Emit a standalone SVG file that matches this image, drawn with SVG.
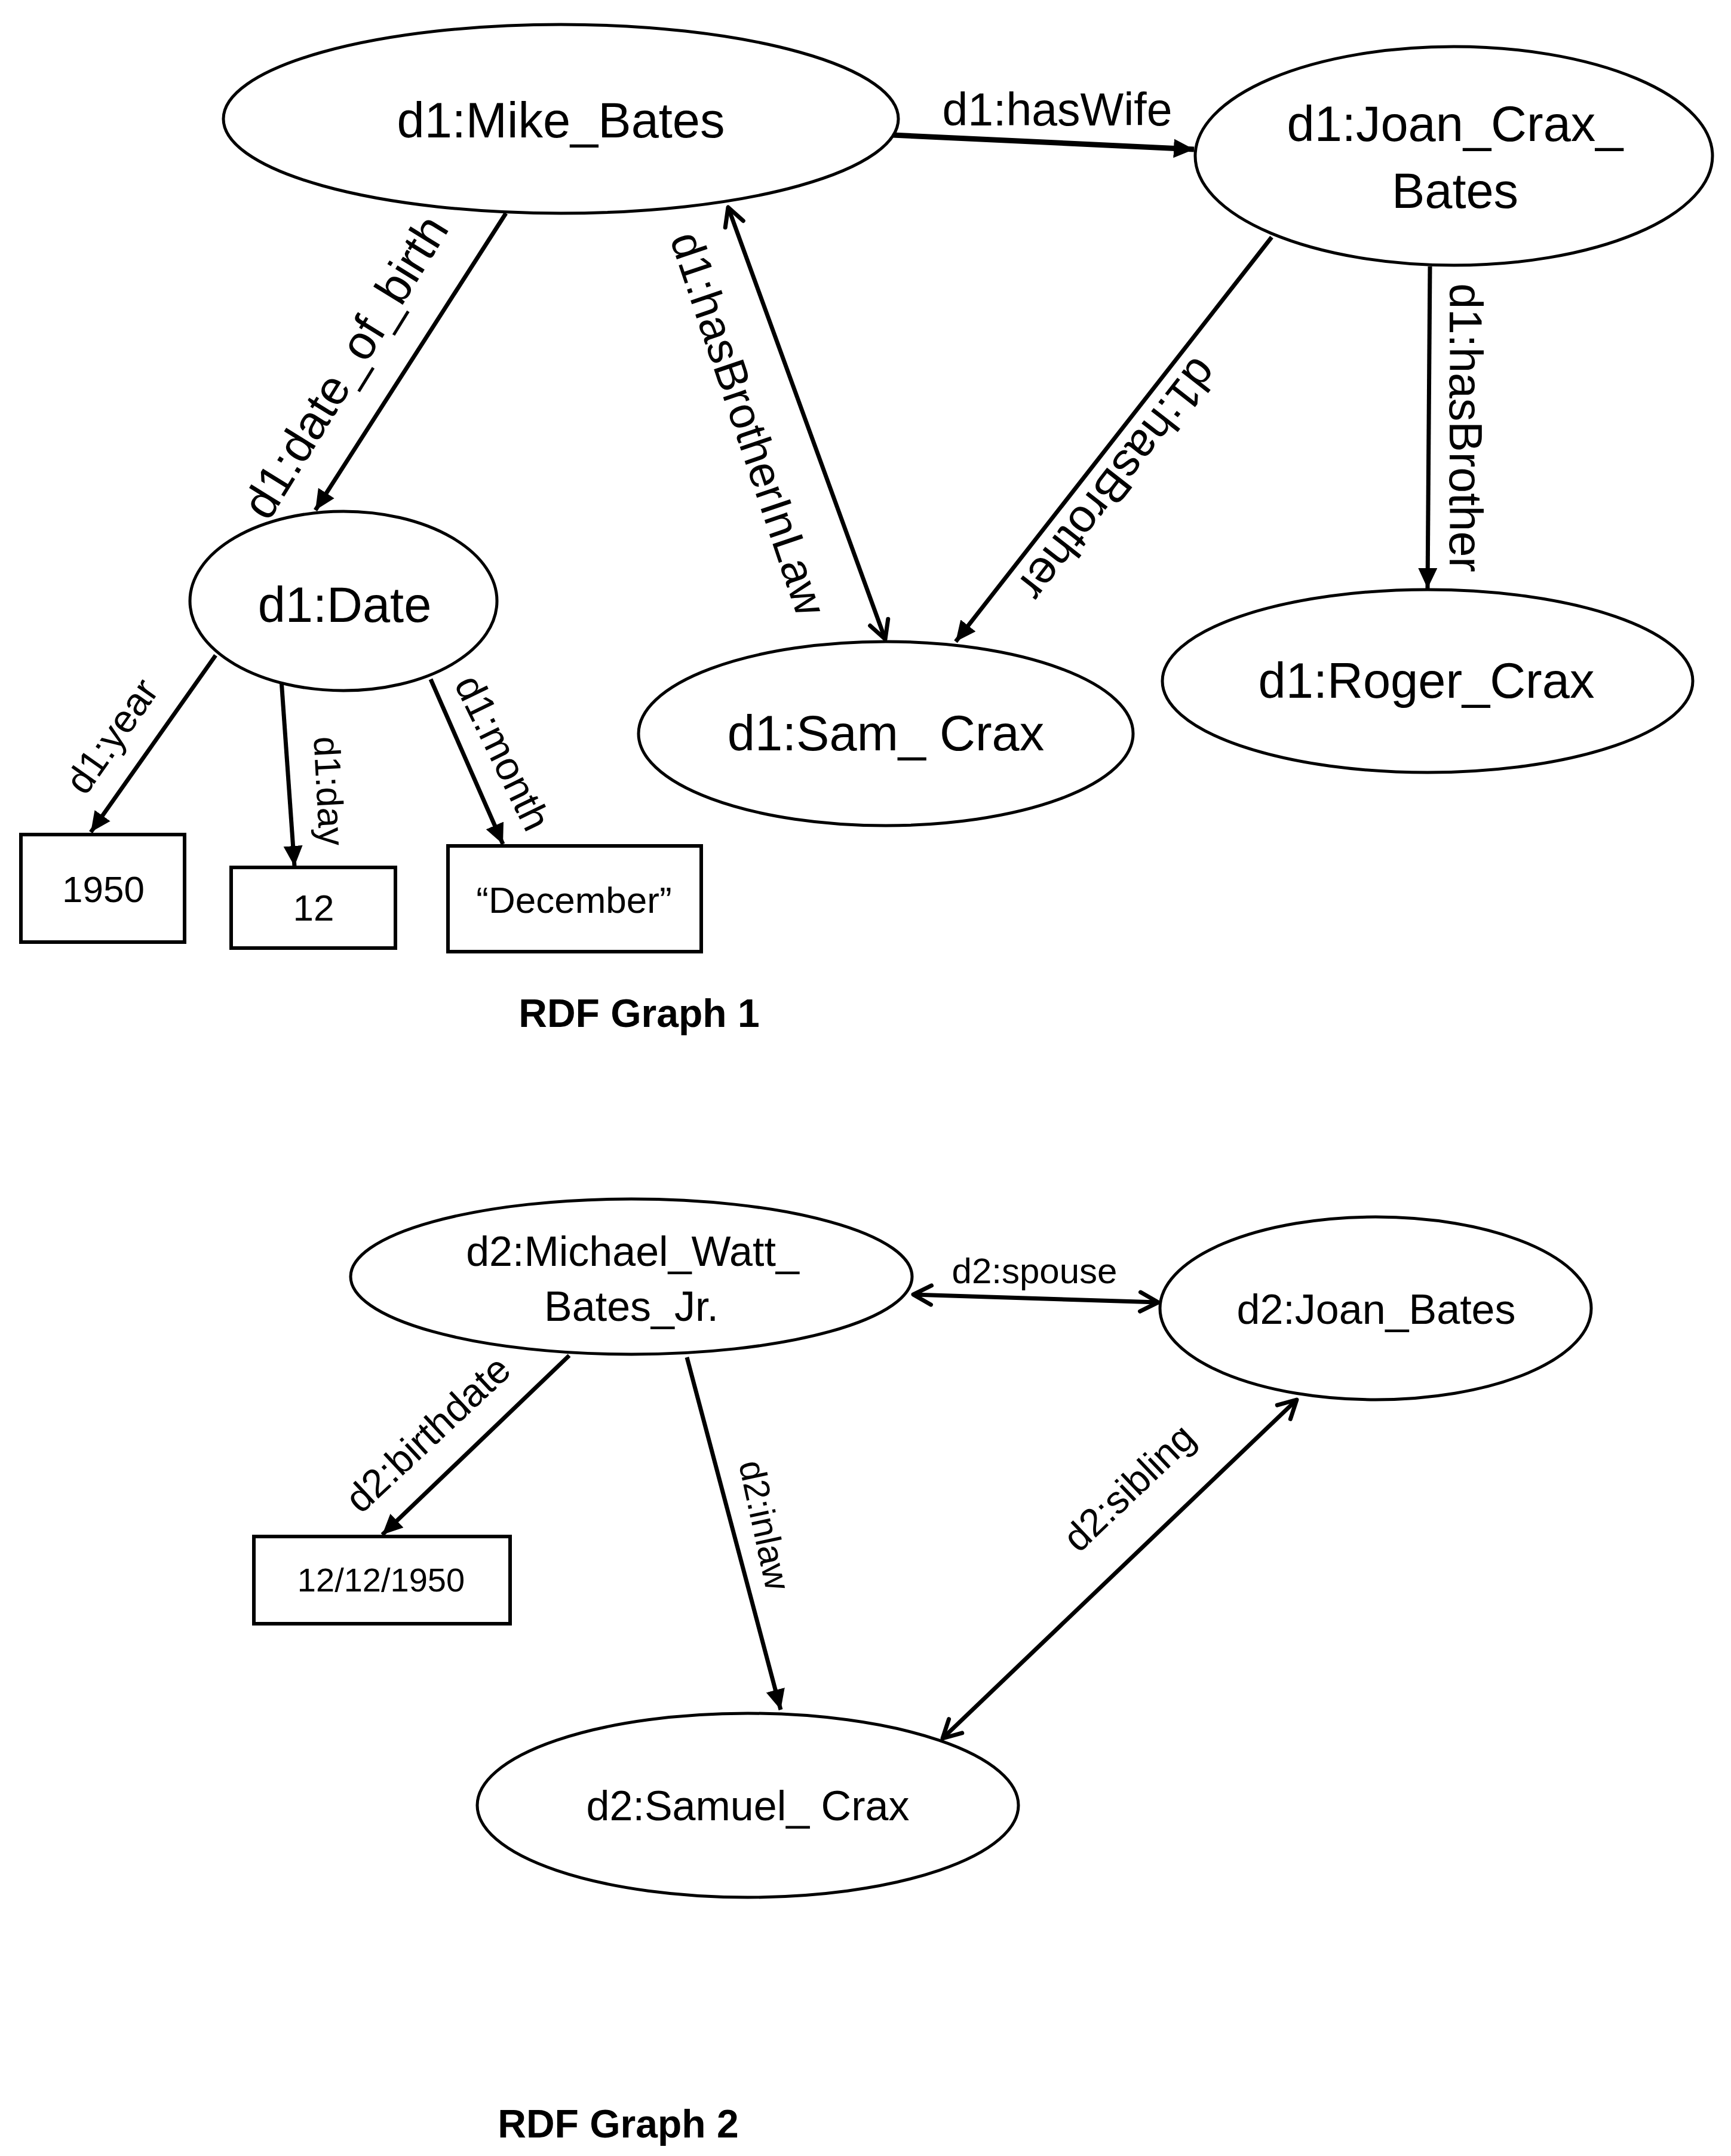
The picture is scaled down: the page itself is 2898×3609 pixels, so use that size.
<svg xmlns="http://www.w3.org/2000/svg" width="2898" height="3609" viewBox="0 0 2898 3609">
<style>
.node{fill:#fff;stroke:#000;stroke-width:5}
.box{fill:#fff;stroke:#000;stroke-width:6}
.t{font-family:"Liberation Sans",Arial,sans-serif;fill:#000;text-anchor:middle}
.n1{font-size:83px}
.n2{font-size:70px}
.bx{font-size:62px}
.lbl{font-family:"Liberation Sans",Arial,sans-serif;fill:#000;text-anchor:middle;dominant-baseline:central}
.title{font-family:"Liberation Sans",Arial,sans-serif;font-weight:bold;font-size:66px;text-anchor:middle;fill:#000}
.e{stroke:#000;stroke-width:7;fill:none}
.fa{marker-end:url(#tri)}
.bi{marker-start:url(#veeS);marker-end:url(#vee)}
</style>
<defs>
<marker id="tri" markerUnits="userSpaceOnUse" markerWidth="44" markerHeight="44" refX="34" refY="16" orient="auto">
<path d="M0,0 L34,16 L0,32 Z" fill="#000"/>
</marker>
<marker id="vee" markerUnits="userSpaceOnUse" markerWidth="50" markerHeight="50" refX="34" refY="20" orient="auto">
<path d="M4,4 L34,20 L4,36" fill="none" stroke="#000" stroke-width="7" stroke-linecap="round" stroke-linejoin="round"/>
</marker>
<marker id="veeS" markerUnits="userSpaceOnUse" markerWidth="50" markerHeight="50" refX="4" refY="20" orient="auto">
<path d="M34,4 L4,20 L34,36" fill="none" stroke="#000" stroke-width="7" stroke-linecap="round" stroke-linejoin="round"/>
</marker>
</defs>
<rect width="2898" height="3609" fill="#fff"/>

<g id="connectors">
<line class="e fa" x1="1494" y1="226" x2="1999" y2="250" style="stroke-width:9"/>
<line class="e fa" x1="847" y1="357" x2="528" y2="854"/>
<line class="e bi" x1="1219" y1="347" x2="1482" y2="1070"/>
<line class="e fa" x1="2129" y1="397" x2="1600" y2="1074"/>
<line class="e fa" x1="2394" y1="446" x2="2390" y2="985"/>
<line class="e fa" x1="361" y1="1097" x2="152" y2="1393"/>
<line class="e fa" x1="471" y1="1138" x2="493" y2="1450"/>
<line class="e fa" x1="721" y1="1137" x2="842" y2="1413"/>
<line class="e bi" x1="1529" y1="2167" x2="1939" y2="2180"/>
<line class="e fa" x1="953" y1="2269" x2="640" y2="2569"/>
<line class="e fa" x1="1150" y1="2272" x2="1307" y2="2862"/>
<line class="e bi" x1="2171" y1="2343" x2="1578" y2="2910"/>

<text class="t" x="1770" y="210" style="font-size:77px">d1:hasWife</text>
<text class="lbl" transform="translate(578,614) rotate(-58.3)" style="font-size:80px">d1:date_of_birth</text>
<text class="lbl" transform="translate(1253,709) rotate(71.4)" style="font-size:75px">d1:hasBrotherInLaw</text>
<text class="lbl" transform="translate(1872,803) rotate(128)" style="font-size:78px">d1:hasBrother</text>
<text class="lbl" transform="translate(2454,716) rotate(90)" style="font-size:77px">d1:hasBrother</text>
<text class="lbl" transform="translate(187,1232) rotate(-54.9)" style="font-size:65px">d1:year</text>
<text class="lbl" transform="translate(551,1324) rotate(87)" style="font-size:61px">d1:day</text>
<text class="lbl" transform="translate(842,1260) rotate(64)" style="font-size:67px">d1:month</text>
<text class="t" x="1732" y="2148" style="font-size:60px">d2:spouse</text>
<text class="lbl" transform="translate(716,2400) rotate(-43)" style="font-size:66px">d2:birthdate</text>
<text class="lbl" transform="translate(1280,2553) rotate(77.8)" style="font-size:60px">d2:inlaw</text>
<text class="lbl" transform="translate(1890,2490) rotate(-43.6)" style="font-size:65px">d2:sibling</text>
</g>

<g id="n_mike">
<ellipse class="node" cx="939" cy="199" rx="565" ry="158"/>
<text class="t n1" x="939" y="230">d1:Mike_Bates</text>
</g>
<g id="n_joan1">
<ellipse class="node" cx="2434" cy="261" rx="433" ry="183"/>
<text class="t n1" x="2436" y="236">d1:Joan_Crax_</text>
<text class="t n1" x="2436" y="348">Bates</text>
</g>
<g id="n_date">
<ellipse class="node" cx="575" cy="1006" rx="257" ry="150"/>
<text class="t n1" x="577" y="1041">d1:Date</text>
</g>
<g id="n_sam">
<ellipse class="node" cx="1483" cy="1228" rx="414" ry="154"/>
<text class="t n1" x="1483" y="1256">d1:Sam_ Crax</text>
</g>
<g id="n_roger">
<ellipse class="node" cx="2390" cy="1140" rx="444" ry="153"/>
<text class="t n1" x="2388" y="1168">d1:Roger_Crax</text>
</g>
<g id="n_1950">
<rect class="box" x="35" y="1397" width="274" height="180"/>
<text class="t bx" x="173" y="1510">1950</text>
</g>
<g id="n_12">
<rect class="box" x="387" y="1452" width="275" height="135"/>
<text class="t bx" x="525" y="1541">12</text>
</g>
<g id="n_december">
<rect class="box" x="750" y="1416" width="424" height="177"/>
<text class="t bx" x="961" y="1528">“December”</text>
</g>
<text class="title" x="1070" y="1719">RDF Graph 1</text>

<g id="n_michael">
<ellipse class="node" cx="1057" cy="2137" rx="470" ry="130"/>
<text class="t n2" x="1059" y="2119">d2:Michael_Watt_</text>
<text class="t n2" x="1057" y="2211">Bates_Jr.</text>
</g>
<g id="n_joan2">
<ellipse class="node" cx="2303" cy="2190" rx="361" ry="153"/>
<text class="t n2" x="2304" y="2216">d2:Joan_Bates</text>
</g>
<g id="n_birth">
<rect class="box" x="425" y="2572" width="429" height="146"/>
<text class="t" x="638" y="2664" style="font-size:56px">12/12/1950</text>
</g>
<g id="n_samuel">
<ellipse class="node" cx="1252" cy="3022" rx="453" ry="154"/>
<text class="t n2" x="1252" y="3047">d2:Samuel_ Crax</text>
</g>
<text class="title" x="1035" y="3578">RDF Graph 2</text>
</svg>
